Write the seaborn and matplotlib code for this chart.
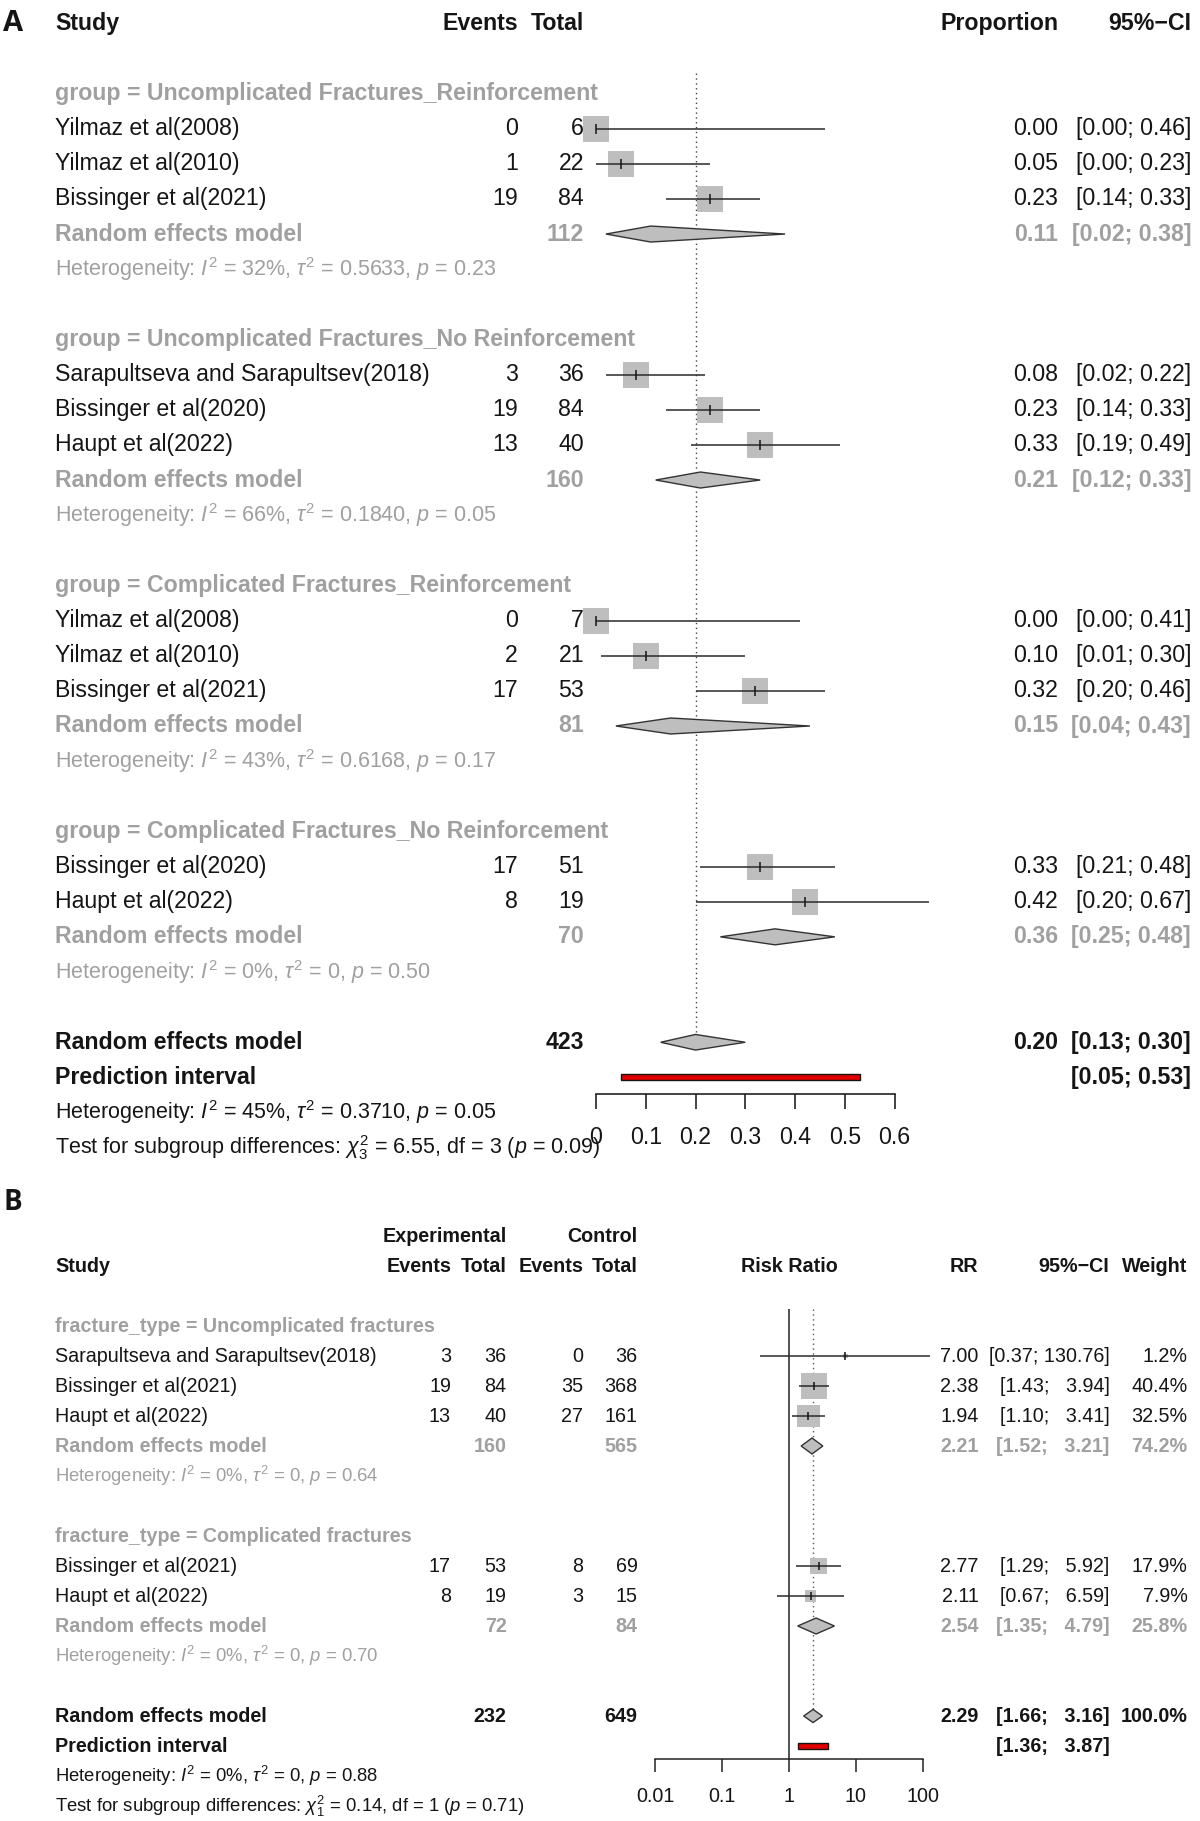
import numpy as np
import matplotlib
matplotlib.use("Agg")
import matplotlib.pyplot as plt
from matplotlib.patches import Rectangle
from matplotlib.ticker import NullLocator
from matplotlib.transforms import blended_transform_factory
import seaborn as sns

# ---------------- Panel A: proportions by subgroup ----------------
groupsA = ["Uncomplicated Fractures_Reinforcement", "Uncomplicated Fractures_No Reinforcement",
           "Complicated Fractures_Reinforcement", "Complicated Fractures_No Reinforcement"]
studiesA = [["Yilmaz et al(2008)", "Yilmaz et al(2010)", "Bissinger et al(2021)"],
            ["Sarapultseva and Sarapultsev(2018)", "Bissinger et al(2020)", "Haupt et al(2022)"],
            ["Yilmaz et al(2008)", "Yilmaz et al(2010)", "Bissinger et al(2021)"],
            ["Bissinger et al(2020)", "Haupt et al(2022)"]]
eventsA = [[0, 1, 19], [3, 19, 13], [0, 2, 17], [17, 8]]
totalsA = [[6, 22, 84], [36, 84, 40], [7, 21, 53], [51, 19]]
propA = [[0.00, 0.05, 0.23], [0.08, 0.23, 0.33], [0.00, 0.10, 0.32], [0.33, 0.42]]
lowA = [[0.00, 0.00, 0.14], [0.02, 0.14, 0.19], [0.00, 0.01, 0.20], [0.21, 0.20]]
uppA = [[0.46, 0.23, 0.33], [0.22, 0.33, 0.49], [0.41, 0.30, 0.46], [0.48, 0.67]]
remA_n = [112, 160, 81, 70]
remA_est = [0.11, 0.21, 0.15, 0.36]
remA_low = [0.02, 0.12, 0.04, 0.25]
remA_upp = [0.38, 0.33, 0.43, 0.48]
hetA_i2 = ["32", "66", "43", "0"]
hetA_tau2 = ["0.5633", "0.1840", "0.6168", "0"]
hetA_p = ["0.23", "0.05", "0.17", "0.50"]
totA_n = 423
totA = [0.20, 0.13, 0.30]
piA = [0.05, 0.53]
ticksA = [0, 0.1, 0.2, 0.3, 0.4, 0.5, 0.6]

# ---------------- Panel B: risk ratios ----------------
groupsB = ["Uncomplicated fractures", "Complicated fractures"]
studiesB = [["Sarapultseva and Sarapultsev(2018)", "Bissinger et al(2021)", "Haupt et al(2022)"],
            ["Bissinger et al(2021)", "Haupt et al(2022)"]]
expEvB = [[3, 19, 13], [17, 8]]
expNB = [[36, 84, 40], [53, 19]]
ctlEvB = [[0, 35, 27], [8, 3]]
ctlNB = [[36, 368, 161], [69, 15]]
rrB = [[7.00, 2.38, 1.94], [2.77, 2.11]]
lowB = [[0.37, 1.43, 1.10], [1.29, 0.67]]
uppB = [[130.76, 3.94, 3.41], [5.92, 6.59]]
wB = [[1.2, 40.4, 32.5], [17.9, 7.9]]
remB_n = [(160, 565), (72, 84)]
remB_est = [2.21, 2.54]
remB_low = [1.52, 1.35]
remB_upp = [3.21, 4.79]
remB_w = [74.2, 25.8]
hetB_p = ["0.64", "0.70"]
totB_n = (232, 649)
totB = [2.29, 1.66, 3.16]
piB = [1.36, 3.87]
ticksB = [0.01, 0.1, 1, 10, 100]

# ---------------- style ----------------
sns.set_style("white")
plt.rcParams["font.family"] = ["Liberation Sans", "DejaVu Sans"]
plt.rcParams["mathtext.fontset"] = "custom"
plt.rcParams["mathtext.rm"] = "Liberation Sans"
plt.rcParams["mathtext.it"] = "Liberation Sans:italic"
plt.rcParams["mathtext.bf"] = "Liberation Sans:bold"

BLACK = "#151515"
GRAY = "#a0a0a0"
SQ = "#bebebe"
W, H = 1200, 1821
fig = plt.figure(figsize=(12, 18.21), dpi=100)


def make_ax(label):
    ax = fig.add_axes([0, 0, 1, 1], label=label)
    ax.patch.set_visible(False)
    for s in ["left", "right", "top"]:
        ax.spines[s].set_visible(False)
    ax.set_yticks([])
    return ax


def put(ax, xpx, row, s, ha="left", color=BLACK, bold=False, size=16.5):
    tr = blended_transform_factory(fig.transFigure, ax.transData)
    ax.text(xpx / W, row, s, transform=tr, ha=ha, va="center", color=color,
            fontweight="bold" if bold else "normal", fontsize=size)


def diamond(ax, row, est, lo, hi, h):
    ax.fill([lo, est, hi, est], [row, row - h, row, row + h], facecolor=SQ,
            edgecolor="#333333", lw=1.0, zorder=3)


def studies(ax, xs, lo, hi, rows, sizes, tick):
    sns.scatterplot(x=xs, y=rows, marker="s", s=sizes, color=SQ, linewidth=0,
                    legend=False, ax=ax, zorder=2)
    ax.hlines(rows, lo, hi, color="#2a2a2a", lw=1.1, zorder=3)
    ax.plot(xs, rows, ls="none", marker="|", ms=tick, mew=1.1, color=BLACK, zorder=4)


# ================= Panel A =================
axA = make_ax("A")
x0A, kA = 596, 497.5          # pixel of 0 and pixels per unit
r0A, dA = 23.2, 35.14         # pixel of header row and row pitch
axA.set_xlim(-x0A / kA, (W - x0A) / kA)
axA.set_ylim((H - r0A) / dA, -r0A / dA)
FA = 16.7
HA = 15.5

put(axA, 3, 0, "A", bold=True, size=21)
axA.texts[-1].set_family(["Open Sans", "DejaVu Sans"])
put(axA, 55, 0, "Study", bold=True, size=FA)
put(axA, 518, 0, "Events", ha="right", bold=True, size=FA)
put(axA, 584, 0, "Total", ha="right", bold=True, size=FA)
put(axA, 1058, 0, "Proportion", ha="right", bold=True, size=FA)
put(axA, 1191, 0, "95%\u2212CI", ha="right", bold=True, size=FA)

r = 2
for g in range(len(groupsA)):
    put(axA, 55, r, "group = " + groupsA[g], color=GRAY, bold=True, size=FA)
    r += 1
    rows = []
    for i, name in enumerate(studiesA[g]):
        put(axA, 55, r, name, size=FA)
        put(axA, 518, r, str(eventsA[g][i]), ha="right", size=FA)
        put(axA, 584, r, str(totalsA[g][i]), ha="right", size=FA)
        put(axA, 1058, r, f"{propA[g][i]:.2f}", ha="right", size=FA)
        put(axA, 1191, r, f"[{lowA[g][i]:.2f}; {uppA[g][i]:.2f}]", ha="right", size=FA)
        rows.append(r)
        r += 1
    studies(axA, propA[g], lowA[g], uppA[g], rows, [350] * len(rows), 6.5)
    put(axA, 55, r, "Random effects model", color=GRAY, bold=True, size=FA)
    put(axA, 584, r, str(remA_n[g]), ha="right", color=GRAY, bold=True, size=FA)
    put(axA, 1058, r, f"{remA_est[g]:.2f}", ha="right", color=GRAY, bold=True, size=FA)
    put(axA, 1191, r, f"[{remA_low[g]:.2f}; {remA_upp[g]:.2f}]", ha="right",
        color=GRAY, bold=True, size=FA)
    diamond(axA, r, remA_est[g], remA_low[g], remA_upp[g], 8 / dA)
    r += 1
    put(axA, 55, r, f"Heterogeneity: $I^2$ = {hetA_i2[g]}%, $\\tau^2$ = {hetA_tau2[g]}, "
        f"$p$ = {hetA_p[g]}", color=GRAY, size=HA)
    r += 2

put(axA, 55, r, "Random effects model", bold=True, size=FA)
put(axA, 584, r, str(totA_n), ha="right", bold=True, size=FA)
put(axA, 1058, r, f"{totA[0]:.2f}", ha="right", bold=True, size=FA)
put(axA, 1191, r, f"[{totA[1]:.2f}; {totA[2]:.2f}]", ha="right", bold=True, size=FA)
diamond(axA, r, totA[0], totA[1], totA[2], 7.8 / dA)
axA.vlines(totA[0], 1.42, r - 7.8 / dA, color="#444444", lw=1.0, linestyles=(0, (1, 2.5)), zorder=1)
put(axA, 55, r + 1, "Prediction interval", bold=True, size=FA)
put(axA, 1191, r + 1, f"[{piA[0]:.2f}; {piA[1]:.2f}]", ha="right", bold=True, size=FA)
axA.add_patch(Rectangle((piA[0], r + 1 - 3 / dA), piA[1] - piA[0], 6 / dA,
                        facecolor="#e00000", edgecolor=BLACK, lw=1.0, zorder=3))
put(axA, 55, r + 2, "Heterogeneity: $I^2$ = 45%, $\\tau^2$ = 0.3710, $p$ = 0.05", size=HA)
put(axA, 55, r + 3, "Test for subgroup differences: $\\chi^2_3$ = 6.55, df = 3 ($p$ = 0.09)", size=HA)

axA.spines["bottom"].set_position(("data", (1094 - r0A) / dA))
axA.spines["bottom"].set_bounds(0, 0.6)
axA.spines["bottom"].set_color("#222222")
axA.spines["bottom"].set_linewidth(1.2)
axA.set_xticks(ticksA)
axA.set_xticklabels([f"{t:g}" for t in ticksA])
axA.tick_params(axis="x", direction="out", length=11, width=1.2, color="#222222",
                labelsize=FA, labelcolor=BLACK, pad=12, bottom=True)

# ================= Panel B =================
axB = make_ax("B")
axB.set_xscale("log")
x1B, kB = 789, 66.8           # pixel of RR = 1 and pixels per decade
r0B, dB = 1266, 30.0
axB.set_xlim(10 ** (-x1B / kB), 10 ** ((W - x1B) / kB))
axB.set_ylim((H - r0B) / dB, -r0B / dB)
FB = 14.2
HB = 13.3

allupp = [f"{v:.2f}" for grp in uppB for v in grp] + [f"{v:.2f}" for v in remB_upp]
UW = max(len(s) for s in allupp)


def ci_b(lo, hi):
    return f"[{lo:.2f}; {f'{hi:.2f}'.rjust(UW)}]"


put(axB, 3, -2.1, "B", bold=True, size=20)
axB.texts[-1].set_family(["Open Sans", "DejaVu Sans"])
put(axB, 506.6, -1, "Experimental", ha="right", bold=True, size=FB)
put(axB, 637.5, -1, "Control", ha="right", bold=True, size=FB)
put(axB, 55, 0, "Study", bold=True, size=FB)
put(axB, 451, 0, "Events", ha="right", bold=True, size=FB)
put(axB, 506.6, 0, "Total", ha="right", bold=True, size=FB)
put(axB, 583, 0, "Events", ha="right", bold=True, size=FB)
put(axB, 637.5, 0, "Total", ha="right", bold=True, size=FB)
put(axB, 789, 0, "Risk Ratio", ha="center", bold=True, size=FB)
put(axB, 978.5, 0, "RR", ha="right", bold=True, size=FB)
put(axB, 1109.6, 0, "95%\u2212CI", ha="right", bold=True, size=FB)
put(axB, 1187.6, 0, "Weight", ha="right", bold=True, size=FB)

r = 2
for g in range(len(groupsB)):
    put(axB, 55, r, "fracture_type = " + groupsB[g], color=GRAY, bold=True, size=FB)
    r += 1
    rows = []
    for i, name in enumerate(studiesB[g]):
        put(axB, 55, r, name, size=FB)
        put(axB, 451, r, str(expEvB[g][i]), ha="right", size=FB)
        put(axB, 506.6, r, str(expNB[g][i]), ha="right", size=FB)
        put(axB, 583, r, str(ctlEvB[g][i]), ha="right", size=FB)
        put(axB, 637.5, r, str(ctlNB[g][i]), ha="right", size=FB)
        put(axB, 978.5, r, f"{rrB[g][i]:.2f}", ha="right", size=FB)
        put(axB, 1109.6, r, ci_b(lowB[g][i], uppB[g][i]), ha="right", size=FB)
        put(axB, 1187.6, r, f"{wB[g][i]:.1f}%", ha="right", size=FB)
        rows.append(r)
        r += 1
    sizes = [(4.0 * np.sqrt(w) * 0.72) ** 2 for w in wB[g]]
    studies(axB, rrB[g], lowB[g], uppB[g], rows, sizes, 6.0)
    put(axB, 55, r, "Random effects model", color=GRAY, bold=True, size=FB)
    put(axB, 506.6, r, str(remB_n[g][0]), ha="right", color=GRAY, bold=True, size=FB)
    put(axB, 637.5, r, str(remB_n[g][1]), ha="right", color=GRAY, bold=True, size=FB)
    put(axB, 978.5, r, f"{remB_est[g]:.2f}", ha="right", color=GRAY, bold=True, size=FB)
    put(axB, 1109.6, r, ci_b(remB_low[g], remB_upp[g]), ha="right", color=GRAY, bold=True, size=FB)
    put(axB, 1187.6, r, f"{remB_w[g]:.1f}%", ha="right", color=GRAY, bold=True, size=FB)
    diamond(axB, r, remB_est[g], remB_low[g], remB_upp[g], 8 / dB)
    r += 1
    put(axB, 55, r, f"Heterogeneity: $I^2$ = 0%, $\\tau^2$ = 0, $p$ = {hetB_p[g]}",
        color=GRAY, size=HB)
    r += 2

put(axB, 55, r, "Random effects model", bold=True, size=FB)
put(axB, 506.6, r, str(totB_n[0]), ha="right", bold=True, size=FB)
put(axB, 637.5, r, str(totB_n[1]), ha="right", bold=True, size=FB)
put(axB, 978.5, r, f"{totB[0]:.2f}", ha="right", bold=True, size=FB)
put(axB, 1109.6, r, ci_b(totB[1], totB[2]), ha="right", bold=True, size=FB)
put(axB, 1187.6, r, "100.0%", ha="right", bold=True, size=FB)
diamond(axB, r, totB[0], totB[1], totB[2], 6.6 / dB)
axis_rowB = (1759 - r0B) / dB
axB.vlines(1, 1.43, axis_rowB, color="#222222", lw=1.1, zorder=1)
axB.vlines(totB[0], 1.43, r - 6.6 / dB, color="#555555", lw=1.0, linestyles=(0, (1, 2.5)), zorder=1)
put(axB, 55, r + 1, "Prediction interval", bold=True, size=FB)
put(axB, 1109.6, r + 1, ci_b(piB[0], piB[1]), ha="right", bold=True, size=FB)
axB.add_patch(Rectangle((piB[0], r + 1 - 3 / dB), piB[1] - piB[0], 6 / dB,
                        facecolor="#e00000", edgecolor=BLACK, lw=1.0, zorder=3))
put(axB, 55, r + 2, "Heterogeneity: $I^2$ = 0%, $\\tau^2$ = 0, $p$ = 0.88", size=HB)
put(axB, 55, r + 3, "Test for subgroup differences: $\\chi^2_1$ = 0.14, df = 1 ($p$ = 0.71)", size=HB)

axB.spines["bottom"].set_position(("data", axis_rowB))
axB.spines["bottom"].set_bounds(0.01, 100)
axB.spines["bottom"].set_color("#222222")
axB.spines["bottom"].set_linewidth(1.1)
axB.set_xticks(ticksB)
axB.set_xticklabels([f"{t:g}" for t in ticksB])
axB.xaxis.set_minor_locator(NullLocator())
axB.tick_params(axis="x", direction="out", length=9, width=1.1, color="#222222",
                labelsize=FB, labelcolor=BLACK, pad=11, bottom=True)

fig.savefig("out.png", dpi=100, facecolor="white")
